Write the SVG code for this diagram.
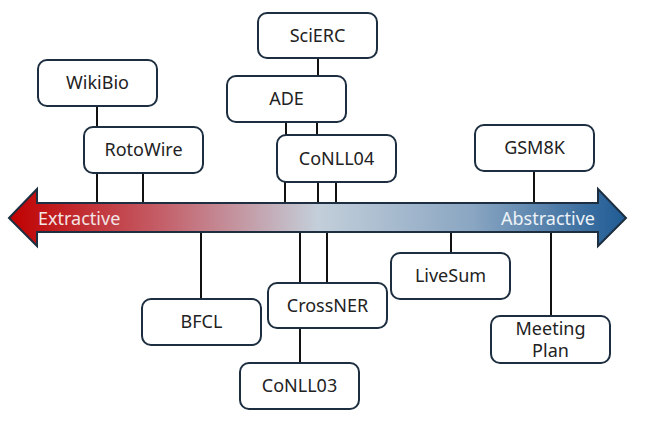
<svg xmlns="http://www.w3.org/2000/svg" width="669" height="442" viewBox="0 0 669 442">
<style>
.b rect{fill:#fff;stroke:#1c2e40;stroke-width:2}
text{font-family:"Noto Sans","DejaVu Sans",sans-serif;font-size:18px;fill:#222;text-anchor:middle}
text.l{text-anchor:start;fill:#f3e6e6}
text.r{text-anchor:end;fill:#eef3f8}
.c line{stroke:#111;stroke-width:2}
</style>
<defs>
<linearGradient id="g" x1="9" x2="626" y1="0" y2="0" gradientUnits="userSpaceOnUse">
<stop offset="0" stop-color="#c00000"/>
<stop offset="0.25" stop-color="#c4606a"/>
<stop offset="0.5" stop-color="#c3cfda"/>
<stop offset="0.75" stop-color="#8aa6c2"/>
<stop offset="1" stop-color="#1f5b94"/>
</linearGradient>
</defs>
<g class="c">
<line x1="97" y1="106" x2="97" y2="127"/>
<line x1="97" y1="173" x2="97" y2="203"/>
<line x1="143" y1="173" x2="143" y2="203"/>
<line x1="318" y1="58" x2="318" y2="76"/>
<line x1="286" y1="122" x2="286" y2="135"/>
<line x1="317" y1="122" x2="317" y2="135"/>
<line x1="285" y1="182" x2="285" y2="203"/>
<line x1="318" y1="182" x2="318" y2="203"/>
<line x1="336" y1="182" x2="336" y2="203"/>
<line x1="534" y1="171" x2="534" y2="203"/>
<line x1="201" y1="232" x2="201" y2="299"/>
<line x1="300" y1="232" x2="300" y2="283"/>
<line x1="327" y1="232" x2="327" y2="283"/>
<line x1="300" y1="328" x2="300" y2="363"/>
<line x1="451" y1="232" x2="451" y2="253"/>
<line x1="551" y1="232" x2="551" y2="316"/>
</g>
<g id="axis">
<path d="M9,218 L37,189 L37,203 L598,203 L598,189 L626,218 L598,246 L598,232 L37,232 L37,246 Z" fill="url(#g)" stroke="#1c2e40" stroke-width="2"/>
<text class="l" x="38" y="225">Extractive</text>
<text class="r" x="595" y="225">Abstractive</text>
</g>
<g id="sciERC" class="b"><rect x="258" y="13" width="119" height="45" rx="9"/><text x="317.5" y="42">SciERC</text></g>
<g id="wikibio" class="b"><rect x="38" y="60" width="119" height="46" rx="9"/><text x="97.5" y="89">WikiBio</text></g>
<g id="ade" class="b"><rect x="227" y="76" width="119" height="46" rx="9"/><text x="286.5" y="105">ADE</text></g>
<g id="rotowire" class="b"><rect x="84" y="127" width="119" height="46" rx="9"/><text x="143.5" y="156">RotoWire</text></g>
<g id="conll04" class="b"><rect x="277" y="135" width="119" height="47" rx="9"/><text x="336.5" y="165">CoNLL04</text></g>
<g id="gsm8k" class="b"><rect x="475" y="125" width="119" height="46" rx="9"/><text x="534.5" y="154">GSM8K</text></g>
<g id="bfcl" class="b"><rect x="142" y="299" width="119" height="46" rx="9"/><text x="201.5" y="328">BFCL</text></g>
<g id="crossner" class="b"><rect x="268" y="283" width="119" height="45" rx="9"/><text x="327.5" y="312">CrossNER</text></g>
<g id="livesum" class="b"><rect x="391" y="253" width="119" height="46" rx="9"/><text x="450.5" y="282">LiveSum</text></g>
<g id="meeting" class="b"><rect x="491" y="316" width="119" height="47" rx="9"/><text x="550.5" y="335">Meeting</text><text x="550.5" y="357">Plan</text></g>
<g id="conll03" class="b"><rect x="240" y="363" width="119" height="46" rx="9"/><text x="299.5" y="392">CoNLL03</text></g>
</svg>
